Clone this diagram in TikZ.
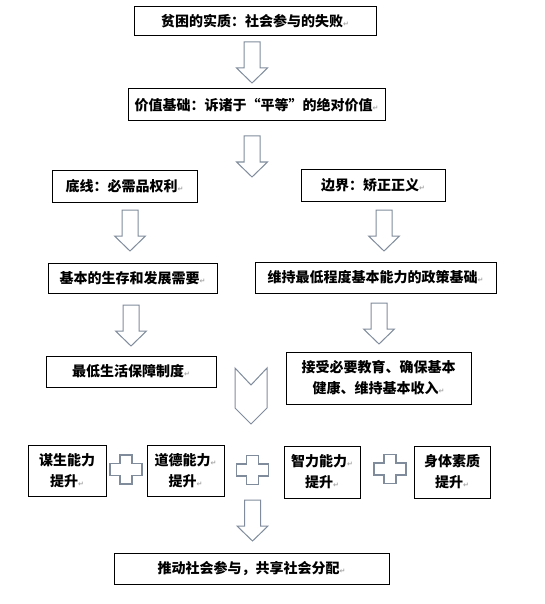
\documentclass[tikz,border=0pt]{standalone}
\usepackage{fontspec}
\setmainfont{Noto Sans CJK SC}
\newfontfamily\symfont{DejaVu Sans}
\definecolor{arrowgray}{RGB}{128,140,156}
\newcommand\pmark{\textcolor{black!35}{\symfont\fontsize{7}{7}\selectfont ↵}}
\begin{document}
\begin{tikzpicture}[x=1pt,y=-1pt,
  box/.style={draw=black, line width=1pt, fill=white, inner sep=0pt, align=center,
    font=\bfseries\fontsize{14}{21}\selectfont},
  shapeline/.style={draw=arrowgray, line width=1pt, fill=white, line join=miter},
  plusline/.style={draw=arrowgray, line width=1.6pt, fill=white, line join=miter},
  downarr/.pic={\path[shapeline] (-8,0) -- (8,0) -- (8,26) -- (15.5,26) -- (0,41) -- (-15.5,26) -- (-8,26) -- cycle;},
  plussign/.pic={\path[plusline] (-6,-14.5) -- (6,-14.5) -- (6,-6) -- (16,-6) -- (16,6) -- (6,6) -- (6,14.5) -- (-6,14.5) -- (-6,6) -- (-16,6) -- (-16,-6) -- (-6,-6) -- cycle;}
]
\useasboundingbox[fill=white] (0,0) rectangle (545,604);

% boxes
\node[box, minimum width=242pt, minimum height=29pt] (b1) at (255,21.5) {贫困的实质：社会参与的失败\pmark};
\node[box, minimum width=257pt, minimum height=32pt] (b2) at (256.5,105) {价值基础：诉诸于“平等”的绝对价值\pmark};
\node[box, minimum width=145pt, minimum height=32pt] (b3) at (124.5,186) {底线：必需品权利\pmark};
\node[box, minimum width=144pt, minimum height=32pt] (b4) at (373,185) {边界：矫正正义\pmark};
\node[box, minimum width=169pt, minimum height=30pt] (b5) at (132.5,278) {基本的生存和发展需要\pmark};
\node[box, minimum width=241pt, minimum height=31pt] (b6) at (375.5,277.5) {维持最低程度基本能力的政策基础\pmark};
\node[box, minimum width=170pt, minimum height=31pt] (b7) at (131,371.5) {最低生活保障制度\pmark};
\node[box, minimum width=185pt, minimum height=52pt] (b8) at (378.5,378) {接受必要教育、确保基本\\健康、维持基本收入\pmark};
\node[box, minimum width=78pt, minimum height=51pt] (r1) at (67,470.5) {谋生能力\\提升\pmark};
\node[box, minimum width=77pt, minimum height=51pt] (r2) at (185.5,470.5) {道德能力\pmark\\提升\pmark};
\node[box, minimum width=76pt, minimum height=52pt] (r3) at (322,472) {智力能力\pmark\\提升\pmark};
\node[box, minimum width=76pt, minimum height=52pt] (r4) at (452,472) {身体素质\\提升\pmark};
\node[box, minimum width=275pt, minimum height=31pt] (bf) at (251.5,568.5) {推动社会参与，共享社会分配\pmark};

% block arrows
\pic at (252,42) {downarr};
\pic at (252,136) {downarr};
\pic at (130,210) {downarr};
\pic at (384,210) {downarr};
\pic at (131,305) {downarr};
\pic at (379,303) {downarr};
\pic at (252.5,500) {downarr};

% chevron
\path[shapeline] (235,368) -- (251,385) -- (267,368) -- (267,408) -- (251,424) -- (235,408) -- cycle;

% plus signs
\pic at (126,469.5) {plussign};
\pic at (252.5,470) {plussign};
\pic at (390,469) {plussign};
\end{tikzpicture}
\end{document}
